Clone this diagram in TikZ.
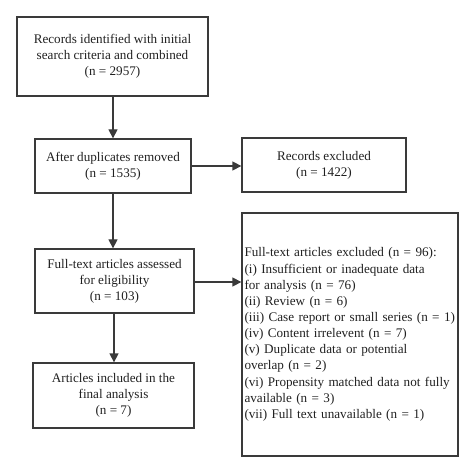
\documentclass[tikz,border=0pt]{standalone}
\usepackage{fontspec}
\setmainfont{Liberation Serif}
\usetikzlibrary{arrows.meta}
\definecolor{linec}{HTML}{3A3A3A}
\definecolor{textc}{HTML}{202020}
\begin{document}
\begin{tikzpicture}[x=1bp,y=-1bp,
  flowbox/.style={draw=linec,line width=1.3bp,rectangle,inner sep=0pt,align=center,
    text=textc,font=\fontsize{13.2}{16.2}\selectfont},
  conn/.style={draw=linec,line width=1.3bp,-{Triangle[length=9bp,width=9bp]}}]
\useasboundingbox (0,0) rectangle (474,473);
\node[flowbox,minimum width=191bp,minimum height=79bp] (b1) at (112.5,56.5)
  {Records identified with initial\\search criteria and combined\\(n = 2957)};
\node[flowbox,minimum width=156bp,minimum height=54bp] (b2) at (113,166)
  {After duplicates removed\\(n = 1535)};
\node[flowbox,minimum width=164bp,minimum height=54bp] (b3) at (324,165)
  {Records excluded\\(n = 1422)};
\node[flowbox,minimum width=159bp,minimum height=64bp] (b4) at (114.5,281)
  {Full-text articles assessed\\for eligibility\\(n = 103)};
\node[flowbox,minimum width=161bp,minimum height=65bp] (b5) at (113.5,395.5)
  {Articles included in the\\final analysis\\(n = 7)};
\node[flowbox,minimum width=216bp,minimum height=243bp,align=left,text width=211bp] (b6) at (350,334.5)
  {Full-text articles excluded (n = 96):\\(i) Insufficient or inadequate data\\for analysis (n = 76)\\(ii) Review (n = 6)\\(iii) Case report or small series (n = 1)\\(iv) Content irrelevent (n = 7)\\(v) Duplicate data or potential\\overlap (n = 2)\\(vi) Propensity matched data not fully\\available (n = 3)\\(vii) Full text unavailable (n = 1)};
\draw[conn] (b1.south -| 113,0) -- (b2.north -| 113,0);
\draw[conn] (b2.south -| 113,0) -- (b4.north -| 113,0);
\draw[conn] (b4.south -| 114,0) -- (b5.north -| 114,0);
\draw[conn] (b2.east |- 0,166) -- (b3.west |- 0,166);
\draw[conn] (b4.east |- 0,282) -- (b6.west |- 0,282);
\end{tikzpicture}
\end{document}
